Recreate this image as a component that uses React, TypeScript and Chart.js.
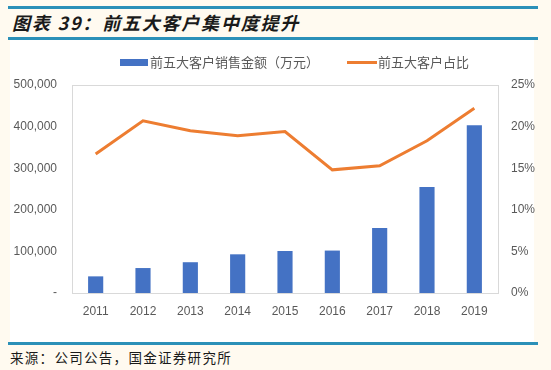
import React, { useEffect, useRef } from "react";
import { Chart, registerables } from "chart.js";

Chart.register(...registerables);

const years = ["2011", "2012", "2013", "2014", "2015", "2016", "2017", "2018", "2019"];
const salesWanYuan = [40000, 60000, 74000, 93000, 101000, 102000, 156000, 255000, 403000];
const sharePct = [16.7, 20.7, 19.5, 18.9, 19.4, 14.8, 15.3, 18.3, 22.2];
const barLabel = "前五大客户销售金额（万元）";
const lineLabel = "前五大客户占比";
const titleText = "图表 39：前五大客户集中度提升";
const sourceText = "来源：公司公告，国金证券研究所";

const BAR_COLOR = "#4472c4";
const LINE_COLOR = "#ed7d31";
const TEXT_COLOR = "#595959";
const RULE_COLOR = "#2b90b8";

const frameAndLegend = {
  id: "frameAndLegend",
  afterDatasetsDraw(chart: any) {
    const { ctx, chartArea } = chart;
    ctx.save();
    ctx.strokeStyle = "#d9d9d9";
    ctx.lineWidth = 1;
    ctx.strokeRect(
      Math.round(chartArea.left) + 0.5,
      Math.round(chartArea.top) + 0.5,
      Math.round(chartArea.right - chartArea.left),
      Math.round(chartArea.bottom - chartArea.top)
    );
    ctx.restore();
  },
  afterDraw(chart: any) {
    const { ctx } = chart;
    ctx.save();
    ctx.font = '13px "Noto Sans CJK SC"';
    ctx.textBaseline = "middle";
    ctx.fillStyle = BAR_COLOR;
    ctx.fillRect(120, 59, 28, 7);
    ctx.fillStyle = TEXT_COLOR;
    ctx.fillText(chart.data.datasets[1].label, 150, 62.5);
    ctx.strokeStyle = LINE_COLOR;
    ctx.lineWidth = 3;
    ctx.beginPath();
    ctx.moveTo(347, 62.5);
    ctx.lineTo(377, 62.5);
    ctx.stroke();
    ctx.fillText(chart.data.datasets[0].label, 378, 62.5);
    ctx.restore();
  },
};

export default function App() {
  const canvasRef = useRef<HTMLCanvasElement | null>(null);

  useEffect(() => {
    document.body.style.margin = "0";
    Chart.defaults.font.family = '"Liberation Sans", Arial, sans-serif';
    Chart.defaults.font.size = 12;
    Chart.defaults.color = TEXT_COLOR;
    const chart = new Chart(canvasRef.current as HTMLCanvasElement, {
      type: "bar",
      data: {
        labels: years,
        datasets: [
          {
            type: "line",
            label: lineLabel,
            data: sharePct,
            borderColor: LINE_COLOR,
            backgroundColor: LINE_COLOR,
            borderWidth: 3,
            pointRadius: 0,
            tension: 0,
            yAxisID: "y1",
            order: 0,
          } as any,
          {
            type: "bar",
            label: barLabel,
            data: salesWanYuan,
            backgroundColor: BAR_COLOR,
            barPercentage: 0.32,
            categoryPercentage: 1,
            yAxisID: "y",
            order: 1,
          },
        ],
      },
      options: {
        animation: false,
        responsive: false,
        layout: { padding: { top: 85, left: 0, right: 0, bottom: 0 } },
        plugins: { legend: { display: false }, tooltip: { enabled: false } },
        scales: {
          x: {
            grid: { display: false, drawTicks: false },
            border: { display: false },
            ticks: { padding: 11, color: TEXT_COLOR, font: { size: 12 } },
            afterFit: (s: any) => {
              s.height = 77;
            },
          },
          y: {
            position: "left",
            min: 0,
            max: 500000,
            grid: { display: false, drawTicks: false },
            border: { display: false },
            ticks: {
              stepSize: 100000,
              padding: 15,
              color: TEXT_COLOR,
              callback: (v: any) => (v === 0 ? "-" : Number(v).toLocaleString("en-US")),
            },
            afterFit: (s: any) => {
              s.width = 72;
            },
          },
          y1: {
            position: "right",
            min: 0,
            max: 25,
            grid: { display: false, drawTicks: false },
            border: { display: false },
            ticks: {
              stepSize: 5,
              padding: 13,
              color: TEXT_COLOR,
              callback: (v: any) => `${v}%`,
            },
            afterFit: (s: any) => {
              s.width = 53;
            },
          },
        },
      },
      plugins: [frameAndLegend],
    });
    return () => chart.destroy();
  }, []);

  return (
    <div
      style={{
        position: "absolute",
        left: 0,
        top: 0,
        width: 551,
        height: 370,
        background: "#fffaf0",
        overflow: "hidden",
      }}
    >
      <div style={{ position: "absolute", left: 8, top: 6, width: 530, height: 3, background: RULE_COLOR }} />
      <div
        style={{
          position: "absolute",
          left: 12,
          top: 9,
          fontFamily: '"Noto Sans CJK SC", sans-serif',
          fontWeight: "bold",
          fontStyle: "italic",
          fontSize: 18,
          letterSpacing: 1.8,
          color: "#1a1a1a",
          lineHeight: "26px",
          whiteSpace: "nowrap",
        }}
      >
        {titleText}
      </div>
      <div style={{ position: "absolute", left: 8, top: 37, width: 530, height: 3, background: RULE_COLOR }} />
      <div style={{ position: "absolute", left: 10, top: 40, width: 524, height: 302, background: "#ffffff" }} />
      <div style={{ position: "absolute", left: 8, top: 342, width: 530, height: 3, background: RULE_COLOR }} />
      <div
        style={{
          position: "absolute",
          left: 10,
          top: 347,
          fontFamily: '"Noto Sans CJK SC", sans-serif',
          fontSize: 13.5,
          letterSpacing: 1.3,
          color: "#1a1a1a",
          lineHeight: "20px",
          whiteSpace: "nowrap",
        }}
      >
        {sourceText}
      </div>
      <canvas
        ref={canvasRef}
        width={551}
        height={370}
        style={{ position: "absolute", left: 0, top: 0, width: 551, height: 370 }}
      />
    </div>
  );
}
